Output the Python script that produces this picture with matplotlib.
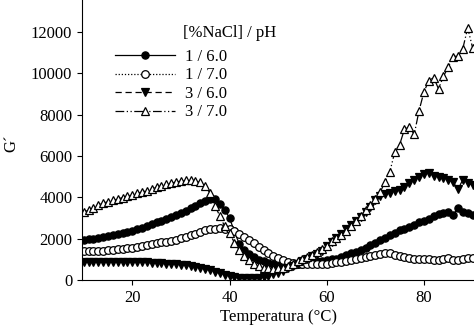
import numpy as np
import matplotlib
matplotlib.use("Agg")
import matplotlib.pyplot as plt

plt.rcParams['font.family'] = ['Liberation Serif', 'DejaVu Serif']

# temperatura (°C), one reading per degree
temp = np.arange(10, 91)

# G' for each [%NaCl] / pH combination
g_1_60 = [1950, 1970, 2000, 2040, 2080, 2120, 2170, 2220, 2270, 2320,
          2380, 2450, 2530, 2610, 2700, 2790, 2880, 2970, 3060, 3150,
          3240, 3350, 3480, 3600, 3720, 3820, 3900, 3930, 3700, 3400,
          3000, 2350, 1750, 1450, 1250, 1100, 980, 900, 840, 790,
          760, 730, 710, 720, 760, 800, 830, 860, 900, 930,
          960, 1000, 1040, 1110, 1210, 1300, 1380, 1460, 1560, 1680,
          1800, 1920, 2040, 2160, 2280, 2400, 2480, 2560, 2680, 2800,
          2880, 2970, 3080, 3200, 3250, 3300, 3130, 3500, 3280, 3220,
          3150]
g_1_70 = [1390, 1390, 1395, 1400, 1410, 1430, 1450, 1480, 1510, 1540,
          1570, 1610, 1650, 1690, 1730, 1780, 1820, 1860, 1900, 1950,
          2010, 2090, 2170, 2250, 2330, 2400, 2450, 2490, 2500, 2490,
          2450, 2360, 2250, 2100, 1950, 1770, 1600, 1450, 1310, 1170,
          1050, 960, 890, 830, 790, 770, 760, 760, 770, 780,
          800, 820, 850, 880, 920, 960, 1010, 1060, 1110, 1170,
          1230, 1280, 1310, 1290, 1220, 1160, 1100, 1050, 1030, 1000,
          1020, 1030, 990, 960, 1000, 1060, 980, 950, 1020, 1080,
          1090]
g_3_60 = [860, 860, 860, 860, 860, 860, 860, 860, 860, 860,
          860, 860, 855, 850, 840, 830, 815, 800, 785, 770,
          750, 720, 680, 640, 590, 530, 470, 400, 330, 260,
          200, 150, 120, 100, 90, 90, 110, 150, 210, 280,
          360, 460, 560, 680, 800, 920, 1040, 1160, 1280, 1420,
          1650, 1850, 2050, 2250, 2450, 2650, 2850, 3050, 3300, 3550,
          3850, 4050, 4150, 4230, 4300, 4380, 4500, 4700, 4850, 5000,
          5150, 5200, 5050, 5000, 4950, 4850, 4750, 4400, 4850, 4700,
          4600]
g_3_70 = [3280, 3380, 3500, 3640, 3720, 3790, 3850, 3920, 3990, 4060,
          4120, 4190, 4260, 4330, 4410, 4490, 4560, 4630, 4690, 4740,
          4790, 4820, 4820, 4790, 4720, 4550, 4200, 3600, 3100, 2600,
          2300, 1800, 1450, 1180, 950, 790, 660, 590, 560, 550,
          560, 600, 670, 780, 900, 1010, 1110, 1230, 1360, 1500,
          1650, 1870, 2050, 2200, 2380, 2600, 2850, 3100, 3380, 3620,
          3900, 4250, 4750, 5250, 6200, 6550, 7300, 7400, 7050, 8200,
          9100, 9650, 9800, 9250, 9850, 10300, 10800, 10850, 11200, 12200,
          11250]

labels = ['1 / 6.0', '1 / 7.0', '3 / 6.0', '3 / 7.0']

fig = plt.figure(figsize=(4.74, 3.26), dpi=100)
ax = fig.add_axes([0.173, 0.141, 0.827, 0.859])

ax.plot(temp, g_1_60, color='black', lw=0.9, linestyle='-', marker='o',
        markersize=5.2, markerfacecolor='black', markeredgecolor='black',
        markeredgewidth=0.9, label=labels[0])
ax.plot(temp, g_1_70, color='black', lw=0.9, linestyle=(0, (1, 1.5)), marker='o',
        markersize=5.5, markerfacecolor='white', markeredgecolor='black',
        markeredgewidth=0.9, label=labels[1])
ax.plot(temp, g_3_60, color='black', lw=0.9, linestyle=(0, (5, 3)), marker='v',
        markersize=5.5, markerfacecolor='black', markeredgecolor='black',
        markeredgewidth=0.9, label=labels[2])
ax.plot(temp, g_3_70, color='black', lw=0.9, linestyle=(0, (7, 2, 1, 2, 1, 2)),
        marker='^', markersize=5.8, markerfacecolor='white', markeredgecolor='black',
        markeredgewidth=0.9, label=labels[3])

ax.set_xlim(9.65, 90.3)
ax.set_ylim(0, 13550)
ax.set_xticks([20, 40, 60, 80])
ax.set_yticks(range(0, 12001, 2000))
ax.spines['top'].set_visible(False)
ax.spines['right'].set_visible(False)
ax.tick_params(direction='out', length=3.5, width=0.8, labelsize=12)
ax.set_xlabel('Temperatura (°C)', fontsize=12, labelpad=2)
ax.set_ylabel('G´', fontsize=12)
ax.yaxis.set_label_coords(-0.16, 0.49)

# legend title sits over the labels, not centred on the box
fig.text(0.386, 0.899, '[%NaCl] / pH', fontsize=12, va='center', ha='left')
ax.legend(loc='upper left', bbox_to_anchor=(0.243, 0.85),
          bbox_transform=fig.transFigure, frameon=False, fontsize=12,
          handlelength=3.6, handletextpad=0.6, labelspacing=0.15,
          borderpad=0, borderaxespad=0, markerscale=1.0)

fig.savefig('out.png', dpi=100)
